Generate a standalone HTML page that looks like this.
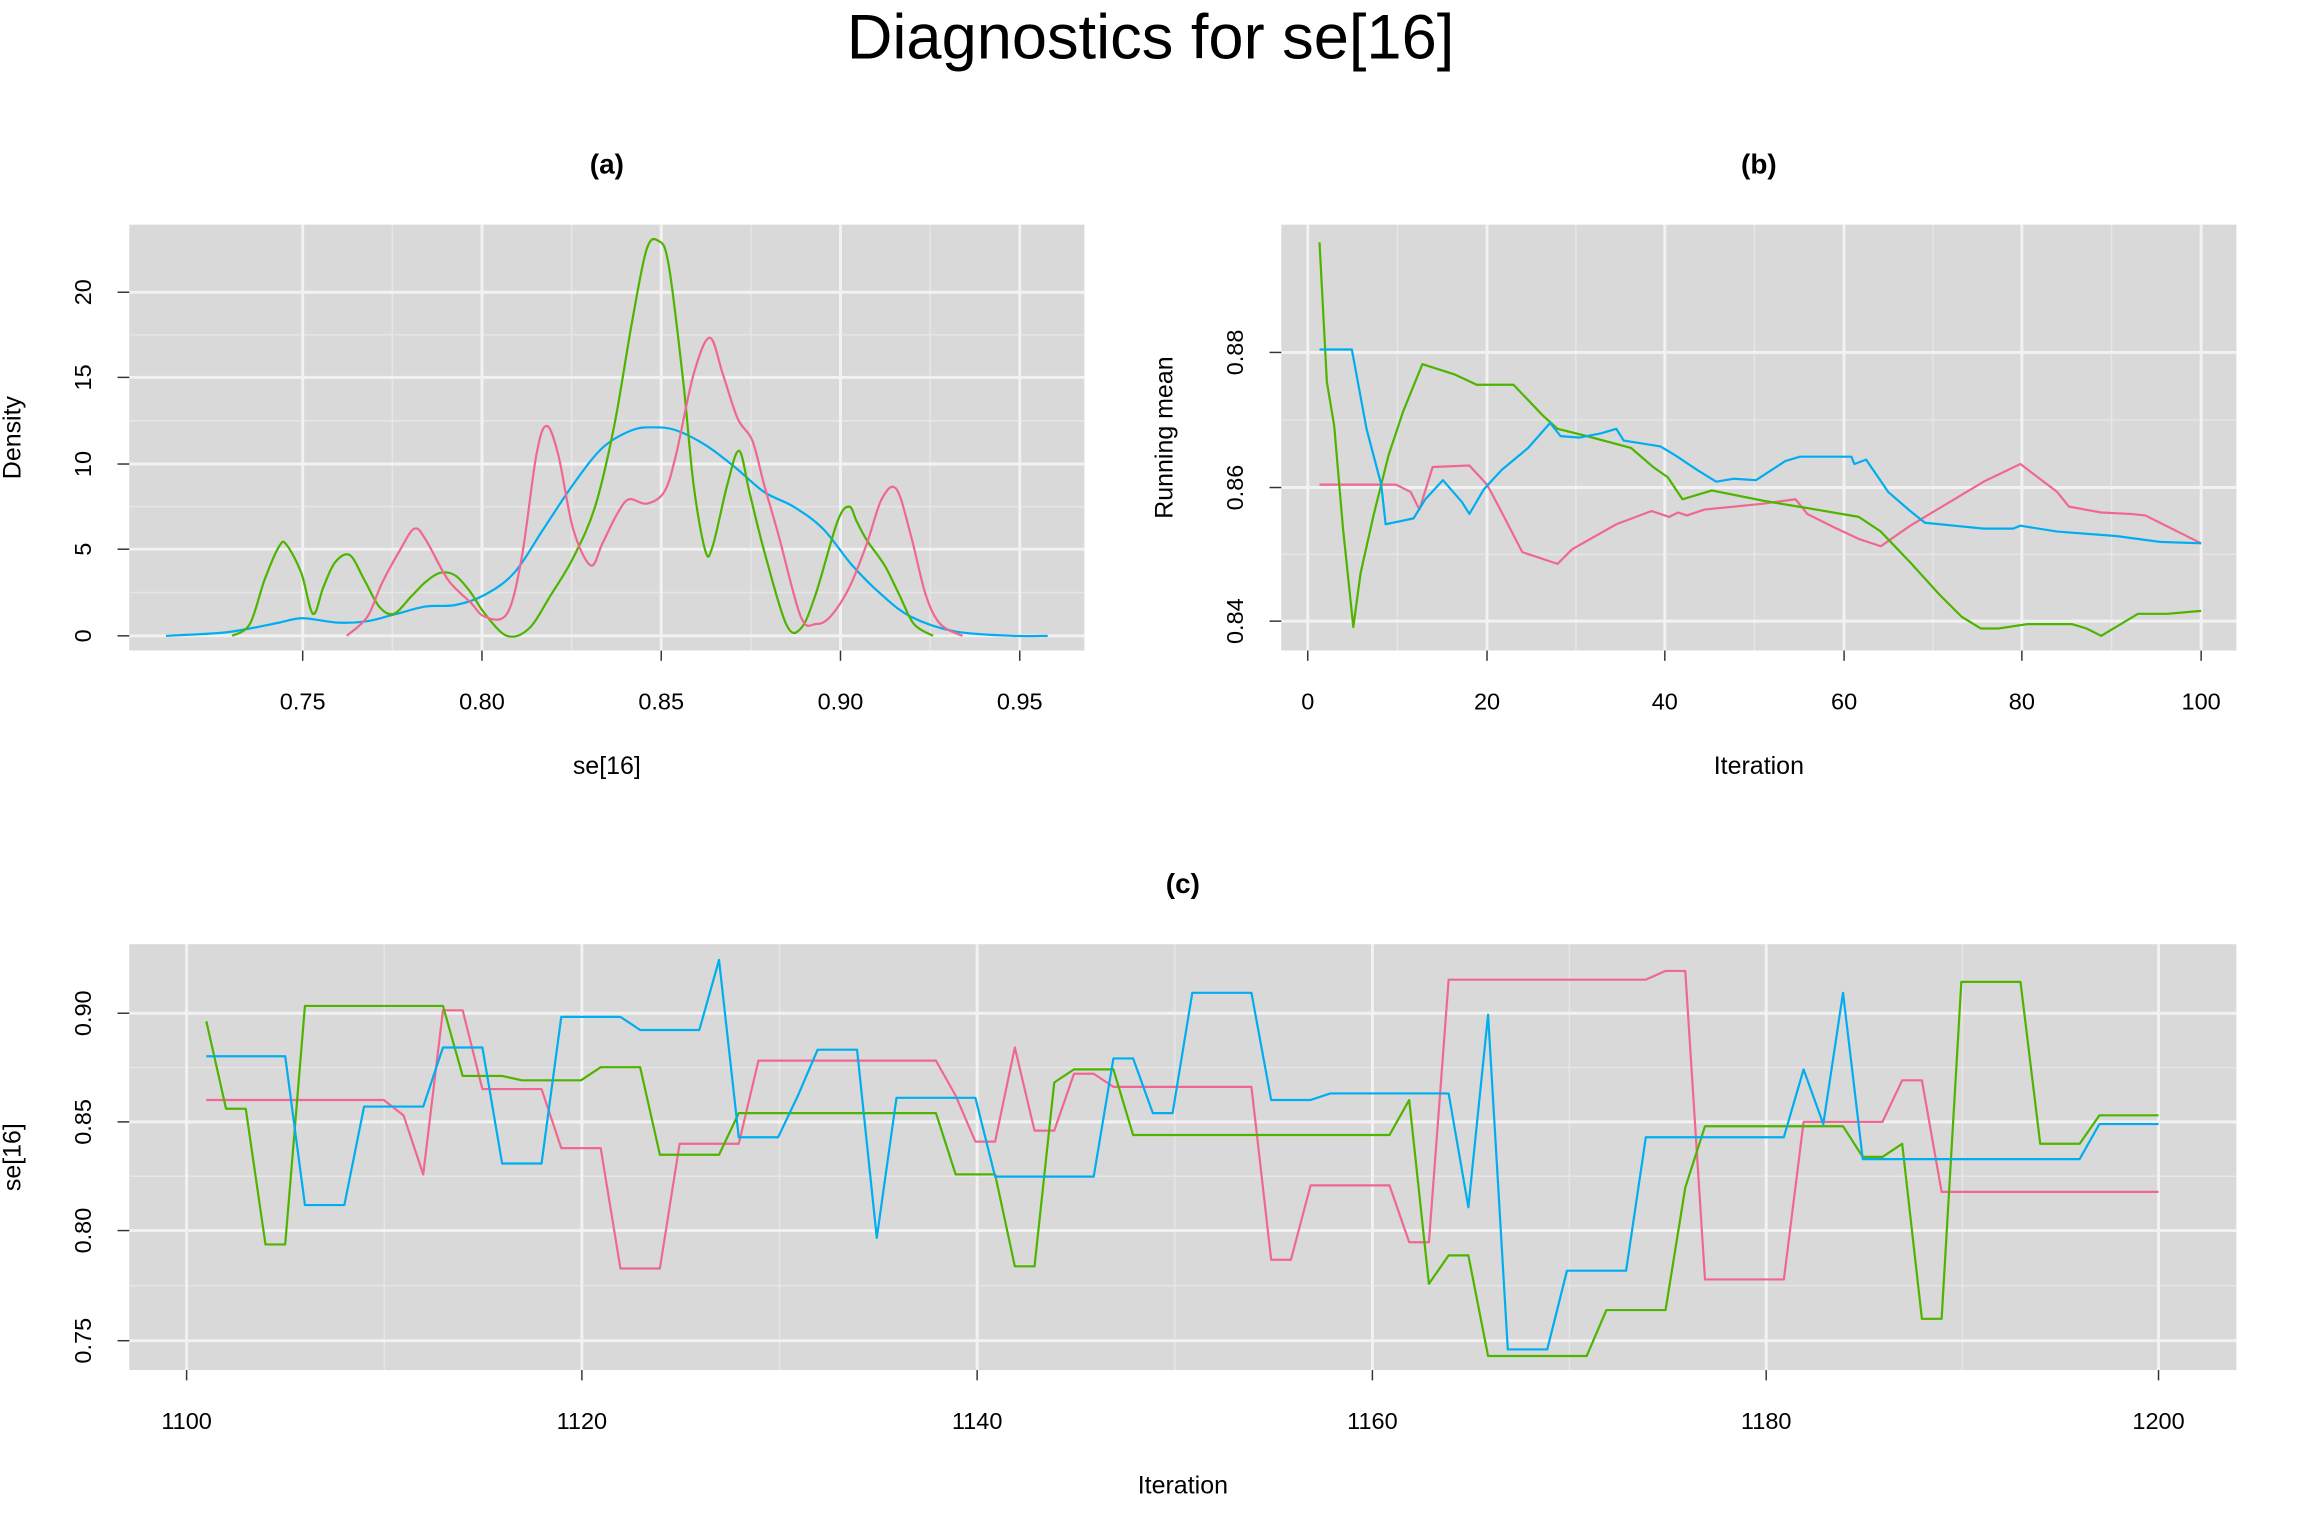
<!DOCTYPE html>
<html><head><meta charset="utf-8">
<style>html,body{margin:0;padding:0;background:#fff}svg{display:block}text{font-family:"Liberation Sans",Arial,sans-serif;fill:#000}</style>
</head><body>
<svg id="s" width="2304" height="1536" viewBox="0 0 1568 1046" preserveAspectRatio="none" xmlns="http://www.w3.org/2000/svg">
<rect width="1568" height="1046" fill="#fff"/>
<text x="783" y="40" font-size="43" text-anchor="middle">Diagnostics for se[16]</text>
<text x="413" y="118" font-size="19" font-weight="bold" text-anchor="middle">(a)</text>
<text x="1197" y="118" font-size="19" font-weight="bold" text-anchor="middle">(b)</text>
<text x="805" y="608" font-size="19" font-weight="bold" text-anchor="middle">(c)</text>
<g id="g"></g>
</svg>
<script>
var NS="http://www.w3.org/2000/svg",g=document.getElementById('g');
function el(t,a,txt){var e=document.createElementNS(NS,t);for(var k in a)e.setAttribute(k,a[k]);if(txt!=null)e.textContent=txt;g.appendChild(e);return e;}
function panel(x0,y0,x1,y1,xt,yt,xl,yl){
 el('rect',{x:x0,y:y0,width:x1-x0,height:y1-y0,fill:'#d9d9d9'});
 for(var i=0;i<xt.length-1;i++){var m=(xt[i][0]+xt[i+1][0])/2;el('line',{x1:m,x2:m,y1:y0,y2:y1,stroke:'#e6e6e6','stroke-width':1});}
 for(var i=0;i<yt.length-1;i++){var m=(yt[i][0]+yt[i+1][0])/2;el('line',{y1:m,y2:m,x1:x0,x2:x1,stroke:'#e6e6e6','stroke-width':1});}
 xt.forEach(function(t){el('line',{x1:t[0],x2:t[0],y1:y0,y2:y1,stroke:'#f2f2f2','stroke-width':2});
  el('line',{x1:t[0],x2:t[0],y1:y1,y2:y1+7,stroke:'#333','stroke-width':1});
  el('text',{x:t[0],y:y1+40,'font-size':16,'text-anchor':'middle'},t[1]);});
 yt.forEach(function(t){el('line',{y1:t[0],y2:t[0],x1:x0,x2:x1,stroke:'#f2f2f2','stroke-width':2});
  el('line',{y1:t[0],y2:t[0],x1:x0-8,x2:x0,stroke:'#333','stroke-width':1});
  el('text',{x:0,y:0,'font-size':16,'text-anchor':'middle',transform:'translate('+(x0-26)+','+t[0]+') rotate(-90)'},t[1]);});
 el('text',{x:(x0+x1)/2,y:y1+84,'font-size':17,'text-anchor':'middle'},xl);
 el('text',{x:0,y:0,'font-size':17,'text-anchor':'middle',transform:'translate('+(x0-74)+','+((y0+y1)/2)+') rotate(-90)'},yl);
}
var P='#f0688f',G='#4db400',B='#00aeef';
function line(pts,c){el('polyline',{points:pts.map(function(p){return p[0]+','+p[1]}).join(' '),fill:'none',stroke:c,'stroke-width':1.5,'stroke-linejoin':'round'});}
function smooth(p,c){var d='M'+p[0][0]+','+p[0][1];for(var i=0;i<p.length-1;i++){var a=p[i-1]||p[i],b=p[i],e=p[i+1],f=p[i+2]||e;
 d+=' C'+(b[0]+(e[0]-a[0])/6)+','+(b[1]+(e[1]-a[1])/6)+' '+(e[0]-(f[0]-b[0])/6)+','+(e[1]-(f[1]-b[1])/6)+' '+e[0]+','+e[1];}
 el('path',{d:d,fill:'none',stroke:c,'stroke-width':1.5});}
panel(88,153,738,443,[[206,'0.75'],[328,'0.80'],[450,'0.85'],[572,'0.90'],[694,'0.95']],[[433,'0'],[374,'5'],[316,'10'],[257,'15'],[199,'20']],'se[16]','Density');
smooth([[113,433],[150,431],[170,428],[190,424],[206,421],[230,424],[250,423],[270,418],[290,413],[310,412],[330,405],[350,390],[370,360],[390,330],[410,305],[430,293],[445,291],[460,293],[480,303],[500,318],[520,335],[540,345],[560,360],[580,385],[600,405],[620,420],[650,430],[690,433],[713,433]],B);
smooth([[158,433],[170,425],[180,395],[190,372],[195,371],[205,390],[213,418],[220,400],[228,383],[238,378],[248,395],[258,413],[268,418],[280,406],[290,396],[300,390],[310,392],[320,403],[330,418],[345,433],[360,428],[375,405],[390,380],[405,345],[418,290],[430,220],[440,170],[448,164],[455,180],[465,260],[472,330],[480,375],[485,372],[495,330],[503,307],[510,335],[520,375],[535,425],[545,428],[555,405],[570,355],[578,345],[583,355],[590,368],[602,385],[612,405],[622,425],[635,433]],G);
smooth([[236,433],[250,420],[260,397],[272,375],[282,360],[290,368],[305,395],[320,410],[330,420],[345,418],[355,380],[365,310],[372,290],[380,310],[390,360],[402,385],[410,370],[420,350],[428,340],[440,343],[452,335],[460,310],[472,255],[483,230],[492,255],[502,285],[512,300],[520,330],[530,365],[545,420],[555,425],[565,420],[578,400],[590,370],[600,340],[610,333],[620,365],[630,405],[640,425],[655,433]],P);
panel(872,153,1522,443,[[890,'0'],[1012,'20'],[1133,'40'],[1255,'60'],[1376,'80'],[1498,'100']],[[423,'0.84'],[332,'0.86'],[240,'0.88']],'Iteration','Running mean');
line([[898,330],[950,330],[960,335],[966,347],[975,318],[1000,317],[1012,330],[1020,345],[1036,376],[1060,384],[1070,374],[1100,357],[1124,348],[1136,352],[1142,349],[1148,351],[1160,347],[1200,343],[1222,340],[1230,350],[1250,360],[1265,367],[1280,372],[1300,358],[1325,343],[1350,328],[1375,316],[1400,335],[1408,345],[1430,349],[1450,350],[1460,351],[1498,370]],P);
line([[898,165],[903,260],[908,290],[914,360],[921,427],[926,390],[935,350],[945,310],[955,280],[968,248],[990,255],[1005,262],[1030,262],[1050,283],[1060,292],[1080,297],[1110,305],[1125,318],[1135,325],[1145,340],[1165,334],[1200,341],[1230,346],[1265,352],[1280,362],[1300,383],[1320,405],[1335,420],[1348,428],[1360,428],[1380,425],[1410,425],[1420,428],[1430,433],[1455,418],[1475,418],[1498,416]],G);
line([[898,238],[920,238],[930,292],[940,330],[943,357],[962,353],[970,340],[982,327],[995,342],[1000,350],[1010,333],[1022,320],[1040,305],[1055,288],[1062,297],[1075,298],[1090,295],[1100,292],[1105,300],[1130,304],[1140,310],[1155,320],[1168,328],[1180,326],[1195,327],[1215,314],[1225,311],[1260,311],[1262,316],[1270,313],[1285,335],[1300,348],[1310,356],[1330,358],[1350,360],[1370,360],[1375,358],[1400,362],[1440,365],[1470,369],[1498,370]],B);
panel(88,643,1522,933,[[127,'1100'],[396,'1120'],[665,'1140'],[934,'1160'],[1202,'1180'],[1469,'1200']],[[913,'0.75'],[838,'0.80'],[764,'0.85'],[690,'0.90']],'Iteration','se[16]');
function series(kp){var pts=[],v=null,j=0;for(var i=1101;i<=1200;i++){while(j<kp.length&&kp[j][0]<=i){v=kp[j][1];j++;}pts.push([127+(i-1100)*13.42,764-(v-0.85)*1490]);}return pts;}
line(series([[1101,.86],[1111,.853],[1112,.826],[1113,.901],[1115,.865],[1119,.838],[1122,.783],[1125,.84],[1129,.878],[1139,.862],[1140,.841],[1142,.884],[1143,.846],[1145,.872],[1147,.866],[1155,.787],[1157,.821],[1162,.795],[1164,.915],[1175,.919],[1177,.778],[1182,.85],[1187,.869],[1189,.818]]),P);
line(series([[1101,.896],[1102,.856],[1104,.794],[1106,.903],[1114,.871],[1117,.869],[1121,.875],[1124,.835],[1128,.854],[1139,.826],[1142,.784],[1144,.868],[1145,.874],[1148,.844],[1162,.86],[1163,.776],[1164,.789],[1166,.743],[1172,.764],[1176,.82],[1177,.848],[1185,.834],[1187,.84],[1188,.76],[1190,.914],[1194,.84],[1197,.853]]),G);
line(series([[1101,.88],[1106,.812],[1109,.857],[1113,.884],[1116,.831],[1119,.898],[1123,.892],[1127,.924],[1128,.843],[1131,.862],[1132,.883],[1135,.797],[1136,.861],[1141,.825],[1147,.879],[1149,.854],[1151,.909],[1155,.86],[1158,.863],[1165,.811],[1166,.899],[1167,.746],[1170,.782],[1174,.843],[1182,.874],[1183,.849],[1184,.909],[1185,.833],[1197,.849]]),B);
</script>
</body></html>
